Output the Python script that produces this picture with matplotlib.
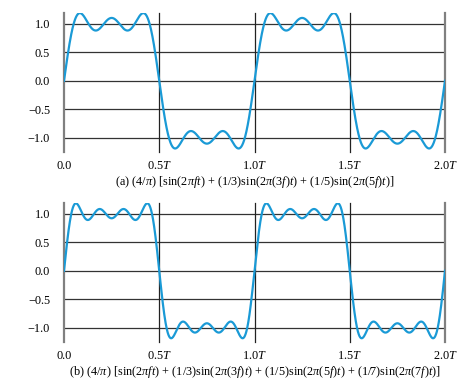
import numpy as np
import matplotlib
matplotlib.use("Agg")
import matplotlib.pyplot as plt

plt.rcParams['font.family'] = ['Liberation Serif', 'DejaVu Serif']
plt.rcParams['mathtext.fontset'] = 'custom'
plt.rcParams['mathtext.rm'] = 'Liberation Serif'
plt.rcParams['mathtext.it'] = 'Liberation Serif:italic'

# odd harmonics used in each partial sum (amplitude 1/n)
harmonics_a = [1, 3, 5]
harmonics_b = [1, 3, 5, 7]

x_ticks = [0.0, 0.5, 1.0, 1.5, 2.0]
x_labels = ['0.0', '0.5$T$', '1.0$T$', '1.5$T$', '2.0$T$']
y_ticks = [-1.0, -0.5, 0.0, 0.5, 1.0]
y_labels = ['\u22121.0', '\u22120.5', '0.0', '0.5', '1.0']

captions = [
    r'(a) (4/$\pi$) [sin(2$\pi ft$) + (1/3)sin(2$\pi$(3$f$)$t$) + (1/5)sin(2$\pi$(5$f$)$t$)]',
    r'(b) (4/$\pi$) [sin(2$\pi ft$) + (1/3)sin(2$\pi$(3$f$)$t$) + (1/5)sin(2$\pi$(5$f$)$t$) + (1/7)sin(2$\pi$(7$f$)$t$)]',
]

W, H = 474, 381
fig = plt.figure(figsize=(W / 100, H / 100), dpi=100)

t = np.linspace(0, 2, 2000)


def partial_sum(harmonics):
    y = np.zeros_like(t)
    for n in harmonics:
        y += np.sin(2 * np.pi * n * t) / n
    return 4 / np.pi * y


def draw_panel(top_px, bottom_px, harmonics, caption):
    left_px, right_px = 64, 445
    ax = fig.add_axes([left_px / W, 1 - bottom_px / H,
                       (right_px - left_px) / W, (bottom_px - top_px) / H])
    ax.set_xlim(0, 2)
    ax.set_ylim(-1.25, 1.19)
    for s in ax.spines.values():
        s.set_visible(False)

    for yv in y_ticks:
        ax.hlines(yv, 0, 2, color='#333333', lw=0.9, zorder=1, clip_on=False)
    for xv in x_ticks:
        if xv in (0.0, 2.0):
            ax.axvline(xv, color='#808080', lw=1.6, zorder=1, clip_on=False)
        else:
            ax.axvline(xv, color='#222222', lw=0.9, zorder=1, clip_on=False)

    ax.plot(t, partial_sum(harmonics), color='#1a9ad6', lw=1.6, zorder=3)

    ax.set_xticks(x_ticks, x_labels)
    ax.set_yticks(y_ticks, y_labels)
    ax.tick_params(length=0, labelsize=8.8, pad=6)
    ax.tick_params(axis='y', pad=10)

    fig.text(0.5 * (left_px + right_px) / W, 1 - (bottom_px + 30) / H,
             caption, ha='center', va='center', fontsize=8.8)


draw_panel(13, 152, harmonics_a, captions[0])
draw_panel(203, 342, harmonics_b, captions[1])

fig.savefig('out.png', dpi=100)
